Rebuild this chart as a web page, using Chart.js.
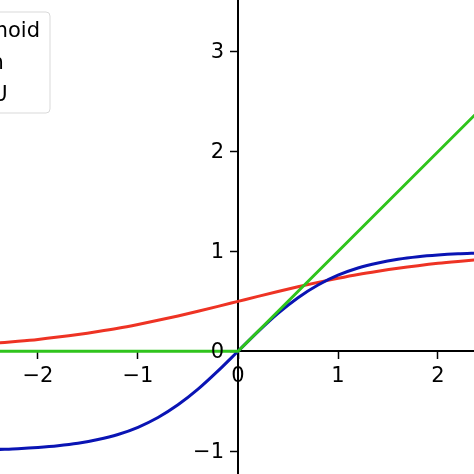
<!DOCTYPE html>
<html>
<head>
<meta charset="utf-8">
<script src="https://cdn.jsdelivr.net/npm/chart.js@4/dist/chart.umd.min.js"></script>
<style>
  html, body { margin: 0; padding: 0; background: #fff; }
  #wrap { width: 474px; height: 474px; }
</style>
</head>
<body>
<div id="wrap"><canvas id="actChart" width="474" height="474"></canvas></div>
<script>
// values
const xs = [-2.4, -2.2, -2.0, -1.8, -1.6, -1.4, -1.2, -1.0, -0.8, -0.6, -0.4, -0.2, 0,
            0.2, 0.4, 0.6, 0.8, 1.0, 1.2, 1.4, 1.6, 1.8, 2.0, 2.2, 2.4];
const sigmoidVals = [0.083, 0.100, 0.119, 0.142, 0.168, 0.198, 0.231, 0.269, 0.310, 0.354, 0.401, 0.450, 0.500,
                     0.550, 0.599, 0.646, 0.690, 0.731, 0.769, 0.802, 0.832, 0.858, 0.881, 0.900, 0.917];
const tanhVals = [-0.984, -0.976, -0.964, -0.947, -0.922, -0.885, -0.834, -0.762, -0.664, -0.537, -0.380, -0.197, 0,
                  0.197, 0.380, 0.537, 0.664, 0.762, 0.834, 0.885, 0.922, 0.947, 0.964, 0.976, 0.984];
const reluX = [-2.4, 0, 2.4];
const reluVals = [0, 0, 2.4];

const xTicks = [-2, -1, 0, 1, 2];
const yTicks = [-1, 0, 1, 2, 3];
const legendLabels = ['Sigmoid', 'Tanh', 'ReLU'];

const toPoints = (x, y) => x.map((v, i) => ({ x: v, y: y[i] }));
const minus = v => String(v).replace('-', '\u2212');
const FONT = '21px "DejaVu Sans"';

// y labels sit left of the centred spine (chart.js puts them on top of it)
const yLabels = {
    id: 'yLabels',
    afterDraw(chart) {
        const { ctx, scales: { x, y } } = chart;
        const left = x.getPixelForValue(0) - 14;
        ctx.save();
        ctx.font = FONT;
        ctx.fillStyle = '#000';
        ctx.textAlign = 'right';
        ctx.textBaseline = 'middle';
        yTicks.forEach(v => ctx.fillText(minus(v), left, y.getPixelForValue(v) + 1));
        ctx.restore();
    }
};

// legend box, cut off at the left edge like the original
const cutLegend = {
    id: 'cutLegend',
    afterDraw(chart) {
        const ctx = chart.ctx;
        ctx.save();
        ctx.font = FONT;
        ctx.beginPath();
        ctx.roundRect(-80, 12, 130, 101, 4);
        ctx.fillStyle = 'rgba(255,255,255,0.8)';
        ctx.fill();
        ctx.strokeStyle = '#d9d9d9';
        ctx.lineWidth = 1;
        ctx.stroke();
        const left = 40 - ctx.measureText(legendLabels[0]).width;
        ctx.fillStyle = '#000';
        ctx.textBaseline = 'alphabetic';
        legendLabels.forEach((t, i) => ctx.fillText(t, left, 37 + i * 32));
        ctx.restore();
    }
};

const noPad = s => { s.paddingTop = 0; s.paddingBottom = 0; s.paddingLeft = 0; s.paddingRight = 0; };

const axisOpts = {
    border: { display: true, color: '#000', width: 2 },
    grid: { drawOnChartArea: false, drawTicks: true, tickLength: 7, tickColor: '#000', tickWidth: 1.5 },
    afterFit: noPad
};

new Chart(document.getElementById('actChart').getContext('2d'), {
    type: 'line',
    data: {
        datasets: [
            { label: 'Sigmoid', data: toPoints(xs, sigmoidVals), borderColor: '#ee3324', order: 2,
              cubicInterpolationMode: 'monotone' },
            { label: 'Tanh', data: toPoints(xs, tanhVals), borderColor: '#0a14b4', order: 1,
              cubicInterpolationMode: 'monotone' },
            { label: 'ReLU', data: toPoints(reluX, reluVals), borderColor: '#2fc41c', order: 0 }
        ]
    },
    options: {
        responsive: false,
        animation: false,
        devicePixelRatio: 1,
        layout: { padding: 0 },
        elements: { point: { radius: 0 }, line: { borderWidth: 3 } },
        plugins: { legend: { display: false }, tooltip: { enabled: false } },
        scales: {
            x: {
                type: 'linear', min: -2.38, max: 2.36, position: { y: 0 },
                afterBuildTicks: s => { s.ticks = xTicks.map(v => ({ value: v })); },
                ticks: {
                    color: '#000',
                    padding: 6,
                    font: { family: 'DejaVu Sans', size: 21 },
                    callback: v => minus(v)
                },
                ...axisOpts
            },
            y: {
                type: 'linear', min: -1.23, max: 3.52, position: { x: 0 },
                afterBuildTicks: s => { s.ticks = yTicks.map(v => ({ value: v })); },
                ticks: { display: false },
                ...axisOpts
            }
        }
    },
    plugins: [yLabels, cutLegend]
});
</script>
</body>
</html>
